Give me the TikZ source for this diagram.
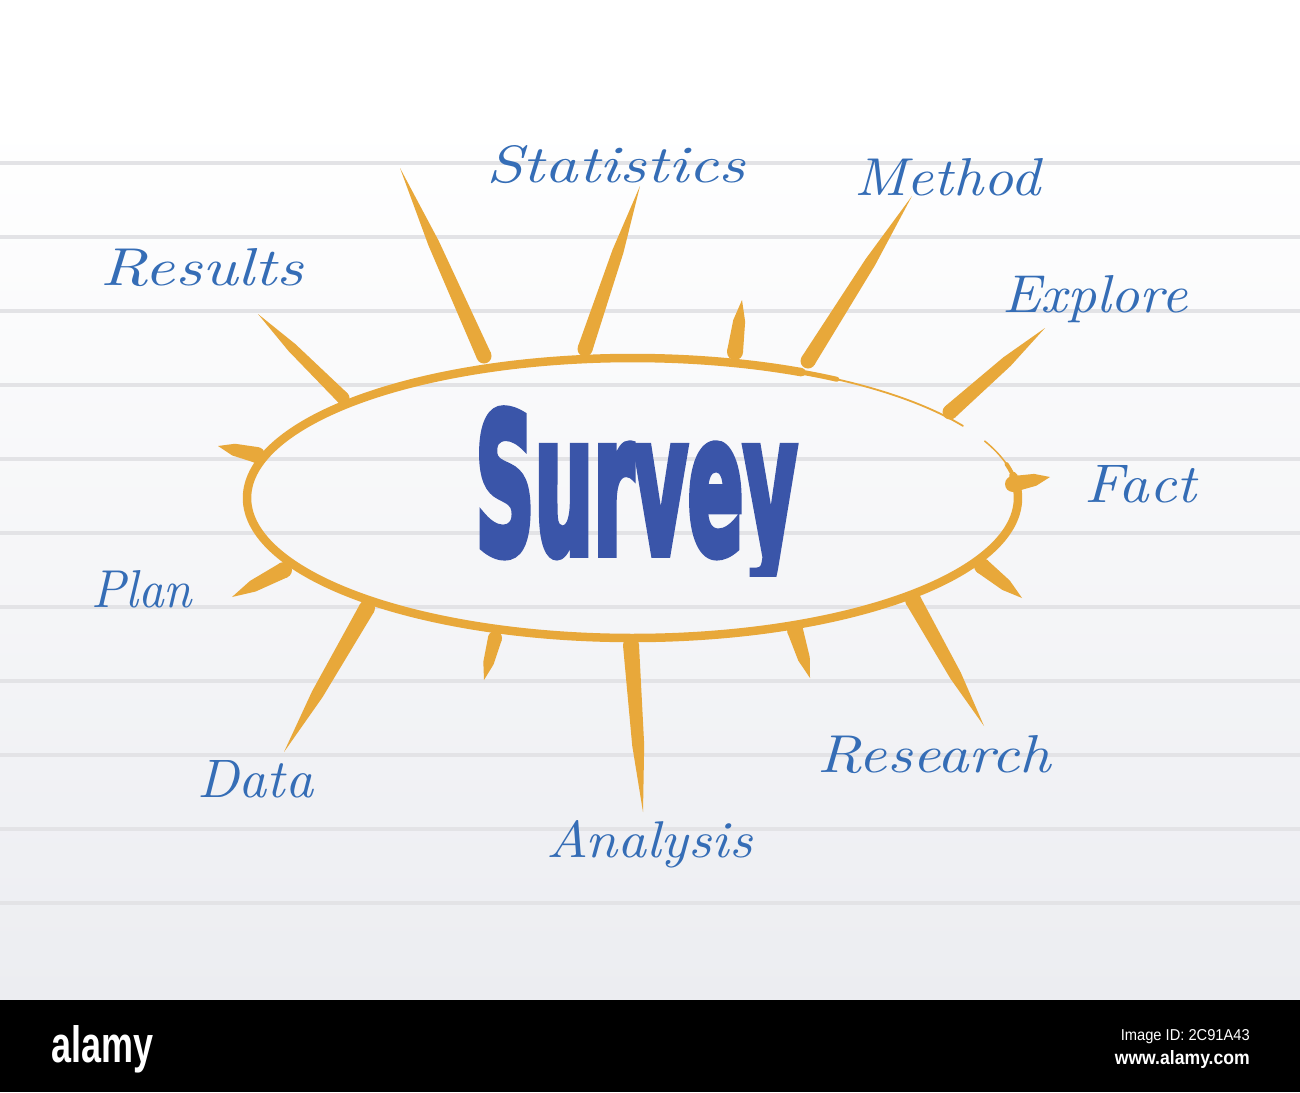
\documentclass[tikz,border=0pt]{standalone}
\usepackage{fontspec}
\usepackage{graphicx}
\usetikzlibrary{calc}
\newfontfamily\surveyfont[FakeBold=5]{DejaVu Sans}
\newfontfamily\wmfont{Liberation Sans}
\definecolor{rayc}{HTML}{E8A83A}
\definecolor{survblue}{HTML}{3A55A9}
\definecolor{handblue}{HTML}{356DB6}
\definecolor{rulec}{HTML}{E3E3E6}
\definecolor{paperbot}{HTML}{ECEDF1}
\newcommand{\hw}[2]{\resizebox{#1pt}{37pt}{\itshape #2}}
\newcommand{\ray}[4]{%
  \coordinate (#1a) at (#2);
  \coordinate (#1b) at (#3);
  \coordinate (#1m) at ($(#1a)!0.6!(#1b)$);
  \fill[raystyle] ($(#1a)!#4pt!90:(#1b)$) -- ($(#1m)!0.75*#4pt!-90:(#1a)$) -- (#1b)
     -- ($(#1m)!0.75*#4pt!90:(#1a)$) -- ($(#1a)!#4pt!-90:(#1b)$) -- cycle;
  \fill[raystyle] (#1a) circle[radius=#4pt];
}
\tikzset{
  raystyle/.style={rayc},
  hand/.style={inner sep=0pt, anchor=base west, text=handblue},
  rule/.style={rulec, line width=3.5pt},
  ell/.style={rayc, line cap=round},
}
\begin{document}
\begin{tikzpicture}[x=1pt, y=-1pt]
\useasboundingbox (0,0) rectangle (1300,1092);
% paper
\fill[white] (0,0) rectangle (1300,121);
\shade[top color=white, bottom color=paperbot] (0,120) rectangle (1300,1000);
\foreach \k in {0,...,10} {
  \draw[rule] (0,{163+74*\k}) -- (1300,{163+74*\k});
}
% rays
\ray{r1}{343,398}{258,314}{6.5}
\ray{r2}{484,356}{400,168}{7.5}
\ray{r3}{585,349}{640,186}{7.5}
\ray{r4}{735,352}{742,300}{8}
\ray{r5}{808,361}{912,196}{7.5}
\ray{r6}{950,412}{1045,328}{7.5}
\ray{r7}{1013,484}{1050,477}{8}
\ray{r8}{982,566}{1022,598}{8}
\ray{r9}{913,600}{984,726}{8}
\ray{r10}{795,630}{810,678}{8}
\ray{r11}{631,645}{643,812}{8}
\ray{r12}{495,638}{484,680}{7}
\ray{r13}{367,608}{284,752}{8}
\ray{r14}{284,570}{232,597}{8}
\ray{r15}{257,455}{218,446}{8}
% ellipse
\draw[ell, line width=8.5pt] plot[domain=64:369, samples=160, smooth] ({632.5+385.5*cos(\x)},{498-140*sin(\x)});
\draw[ell, line width=5pt] plot[domain=58:64, samples=10, smooth] ({632.5+385.5*cos(\x)},{498-140*sin(\x)});
\draw[ell, line width=1.8pt] plot[domain=31:58, samples=40, smooth] ({632.5+385.5*cos(\x)},{498-140*sin(\x)});
\draw[ell, line width=1.5pt] plot[domain=14:24, samples=20, smooth] ({632.5+385.5*cos(\x)},{498-140*sin(\x)});
\draw[ell, line width=4pt] plot[domain=9:14, samples=10, smooth] ({632.5+385.5*cos(\x)},{498-140*sin(\x)});
% title
\begin{scope}
\clip (0,0) rectangle (1300,576);
\node[anchor=base west, inner sep=0pt, text=survblue] (survey) at (475,553)
  {\resizebox{322pt}{143pt}{\surveyfont\bfseries Survey}};
\end{scope}
% labels
\node[hand] (stat) at (486,182) {\hw{259}{Statistics}};
\node[hand] (res) at (100,285) {\hw{203}{Results}};
\node[hand] (meth) at (854,195) {\hw{186}{Method}};
\node[hand] (expl) at (1002,312) {\hw{185}{Explore}};
\node[hand] (fact) at (1084,502) {\hw{112}{Fact}};
\node[hand] (plan) at (91,607) {\hw{101}{Plan}};
\node[hand] (data) at (197,797) {\hw{116}{Data}};
\node[hand] (anal) at (546,857) {\hw{206}{Analysis}};
\node[hand] (rsch) at (817,772) {\hw{234}{Research}};
% bottom bar
\fill[black] (0,1000) rectangle (1300,1092);
\node[anchor=base west, inner sep=0pt, text=white] (alamy) at (51,1062)
  {\resizebox{102pt}{37pt}{\wmfont\bfseries alamy}};
\node[anchor=base east, inner sep=0pt, text=white] (imgid) at (1250,1040)
  {\resizebox{129pt}{11pt}{\wmfont Image ID: 2C91A43}};
\node[anchor=base east, inner sep=0pt, text=white] (www) at (1250,1064)
  {\resizebox{135pt}{14pt}{\wmfont\bfseries www.alamy.com}};
\end{tikzpicture}
\end{document}
